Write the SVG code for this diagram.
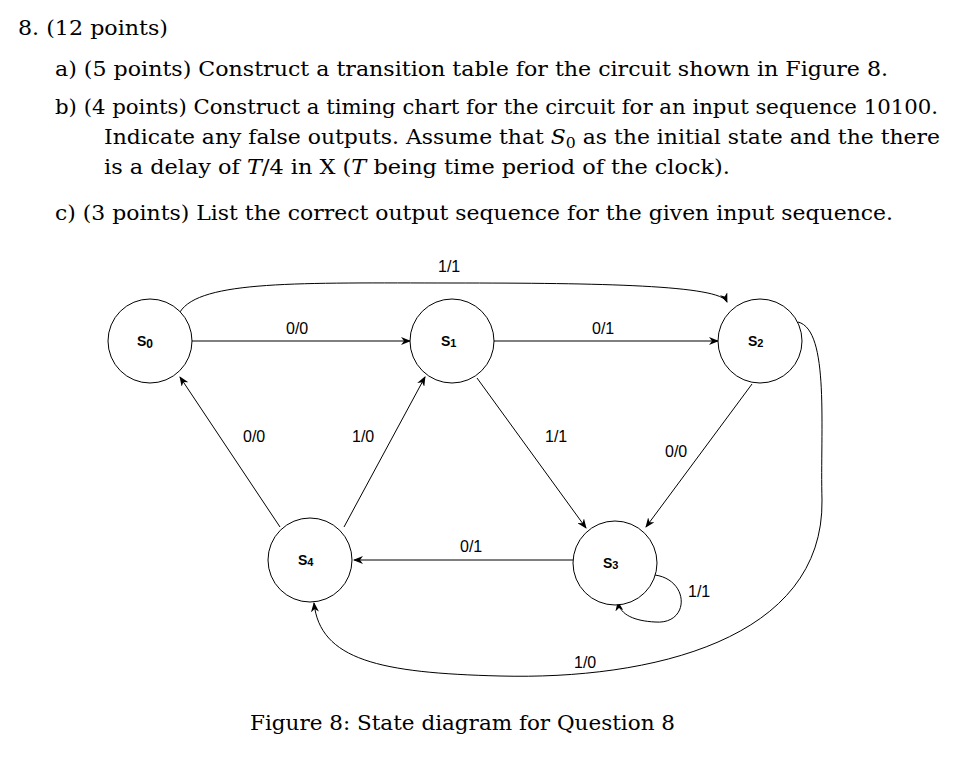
<svg xmlns="http://www.w3.org/2000/svg" width="964" height="758" viewBox="0 0 964 758">
<style>
.t{font-family:"DejaVu Serif","Liberation Serif",serif;font-size:21px;fill:#000}
.l{font-family:"Liberation Sans",Arial,sans-serif;font-size:16px;fill:#000}
.s{font-family:"Liberation Sans",Arial,sans-serif;font-size:14px;font-weight:bold;fill:#000}
.n{fill:#fff;stroke:#000;stroke-width:1}
.c{fill:none;stroke:#000;stroke-width:1;marker-end:url(#a)}
</style>
<defs><marker id="a" markerWidth="10" markerHeight="8" refX="9" refY="4" orient="auto" markerUnits="userSpaceOnUse"><path d="M0,0L10,4L0,8L3,4Z" fill="#000"/></marker></defs>
<rect width="964" height="758" fill="#fff"/>
<text class="t" x="18" y="35" textLength="150" lengthAdjust="spacingAndGlyphs">8. (12 points)</text>
<text class="t" x="55" y="76" textLength="833" lengthAdjust="spacingAndGlyphs">a) (5 points) Construct a transition table for the circuit shown in Figure 8.</text>
<text class="t" x="55" y="114" textLength="883" lengthAdjust="spacingAndGlyphs">b) (4 points) Construct a timing chart for the circuit for an input sequence 10100.</text>
<text class="t" x="104" y="144" textLength="836" lengthAdjust="spacingAndGlyphs">Indicate any false outputs. Assume that <tspan font-style="italic">S</tspan><tspan font-size="15" dy="4">0</tspan><tspan dy="-4"> as the initial state and the there</tspan></text>
<text class="t" x="104" y="174" textLength="626" lengthAdjust="spacingAndGlyphs">is a delay of <tspan font-style="italic">T</tspan>/4 in X (<tspan font-style="italic">T</tspan> being time period of the clock).</text>
<text class="t" x="55" y="220" textLength="838" lengthAdjust="spacingAndGlyphs">c) (3 points) List the correct output sequence for the given input sequence.</text>
<text class="t" x="250" y="730" textLength="425" lengthAdjust="spacingAndGlyphs">Figure 8: State diagram for Question 8</text>
<g id="connectors">
<path class="c" d="M192,341H410"/><text class="l" x="286" y="334">0/0</text>
<path class="c" d="M494,341H718"/><text class="l" x="592" y="334">0/1</text>
<path class="c" d="M180,312C200,280 300,283 452,283C600,283 720,285 727,302"/><text class="l" x="438" y="272">1/1</text>
<path class="c" d="M280,527L180,377"/><text class="l" x="243" y="442">0/0</text>
<path class="c" d="M344,527L425,377"/><text class="l" x="352" y="442">1/0</text>
<path class="c" d="M477,378L586,528"/><text class="l" x="545" y="442">1/1</text>
<path class="c" d="M752,384L646,527"/><text class="l" x="665" y="457">0/0</text>
<path class="c" d="M573,560H354"/><text class="l" x="460" y="552">0/1</text>
<path class="c" d="M655,575C690,580 690,625 655,622C635,621 620,615 618,602"/><text class="l" x="688" y="597">1/1</text>
<path class="c" d="M798,322C830,330 820,430 822,500C824,640 650,680 500,676C380,673 320,660 314,603"/><text class="l" x="574" y="668">1/0</text>
</g>
<g id="S0"><circle class="n" cx="150" cy="341" r="42"/><text class="s" x="137" y="346">S<tspan font-size="12" dy="2">0</tspan></text></g>
<g id="S1"><circle class="n" cx="452" cy="341" r="42"/><text class="s" x="441" y="346">S<tspan font-size="11" dy="1">1</tspan></text></g>
<g id="S2"><circle class="n" cx="760" cy="341" r="42"/><text class="s" x="748" y="346">S<tspan font-size="11" dy="1">2</tspan></text></g>
<g id="S4"><circle class="n" cx="310" cy="560" r="42"/><text class="s" x="298" y="565">S<tspan font-size="11" dy="1">4</tspan></text></g>
<g id="S3"><circle class="n" cx="615" cy="563" r="42"/><text class="s" x="603" y="568">S<tspan font-size="11" dy="1">3</tspan></text></g>
</svg>
